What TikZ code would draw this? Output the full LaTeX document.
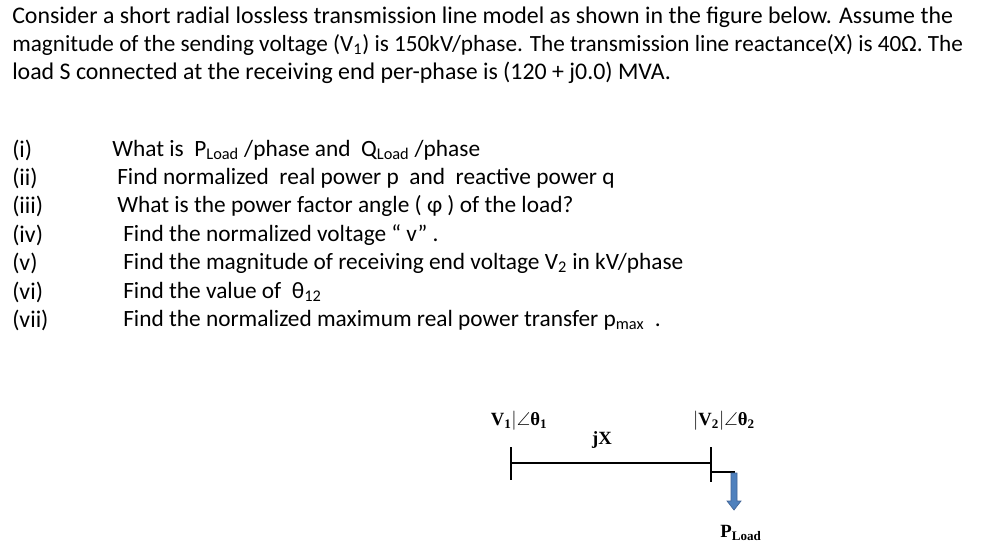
\documentclass[tikz,border=0pt]{standalone}
\usepackage{fontspec}
\usepackage{amsmath}
\usepackage{amssymb}
\setmainfont{Carlito}
\newfontfamily\tnr{Liberation Serif}
\begin{document}
\begin{tikzpicture}[x=0.75pt,y=0.75pt,yscale=-1,xscale=1]
\tikzset{txt/.style={anchor=west,inner sep=0pt,font=\fontsize{17.9}{20}\selectfont},
  qtxt/.style={txt,font=\fontsize{17.5}{20}\selectfont},
  lbl/.style={inner sep=0pt,font=\tnr\bfseries\fontsize{14}{16}\selectfont}}
\useasboundingbox (0,0) rectangle (987,550);

% Text Node
\node[txt] (l1) at (12,17) {Consider a short radial lossless transmission line model as shown in the figure below. Assume the};
\node[txt,font=\fontsize{17.4}{20}\selectfont] (l2) at (12,45) {magnitude of the sending voltage (V\textsubscript{1}) is 150kV/phase. The transmission line reactance(X) is 40Ω. The};
\node[txt] (l3) at (12,73) {load S connected at the receiving end per-phase is (120 + j0.0) MVA.};

% Text Node
\foreach \r/\yy in {(i)/150,(ii)/178,(iii)/206,(iv)/235,(v)/263,(vi)/292,(vii)/320}
  \node[txt] at (12,\yy) {\r};
\node[qtxt] (q1) at (112,150) {What is\ \ P\textsubscript{Load} /phase and\ \ Q\textsubscript{Load} /phase};
\node[qtxt] (q2) at (117,178) {Find normalized\ \ real power p\ \ and\ \ reactive power q};
\node[qtxt] (q3) at (117,206) {What is the power factor angle ( φ ) of the load?};
\node[qtxt] (q4) at (123,235) {Find the normalized voltage “ v” .};
\node[qtxt] (q5) at (123,263) {Find the magnitude of receiving end voltage V\textsubscript{2} in kV/phase};
\node[qtxt] (q6) at (123,292) {Find the value of\ \ θ\textsubscript{12}};
\node[qtxt] (q7) at (123,320) {Find the normalized maximum real power transfer p\textsubscript{max}\ \ .};

%Shape: buses and line
\draw[line width=2pt] (511,447) -- (511,480);
\draw[line width=2pt] (711,447) -- (711,482);
\draw[line width=2pt] (511,463) -- (711,463);
\draw[line width=2pt] (711,472) -- (735,472);
%Shape: load arrow
\draw[draw={rgb,255:red,65;green,100;blue,150},fill={rgb,255:red,79;green,129;blue,189},line width=0.5pt]
  (731,473) -- (737,473) -- (737,501) -- (741,501) -- (734,510) -- (727,501) -- (731,501) -- cycle;

% Text Node
\node[lbl] (v1) at (519,421) {V\textsubscript{1}$|\angle$θ\textsubscript{1}};
\node[lbl] (v2) at (724,421) {$|$V\textsubscript{2}$|\angle$θ\textsubscript{2}};
\node[lbl] (jx) at (602,440) {jX};
\node[lbl] (pl) at (741,533) {P\textsubscript{Load}};
\end{tikzpicture}
\end{document}
